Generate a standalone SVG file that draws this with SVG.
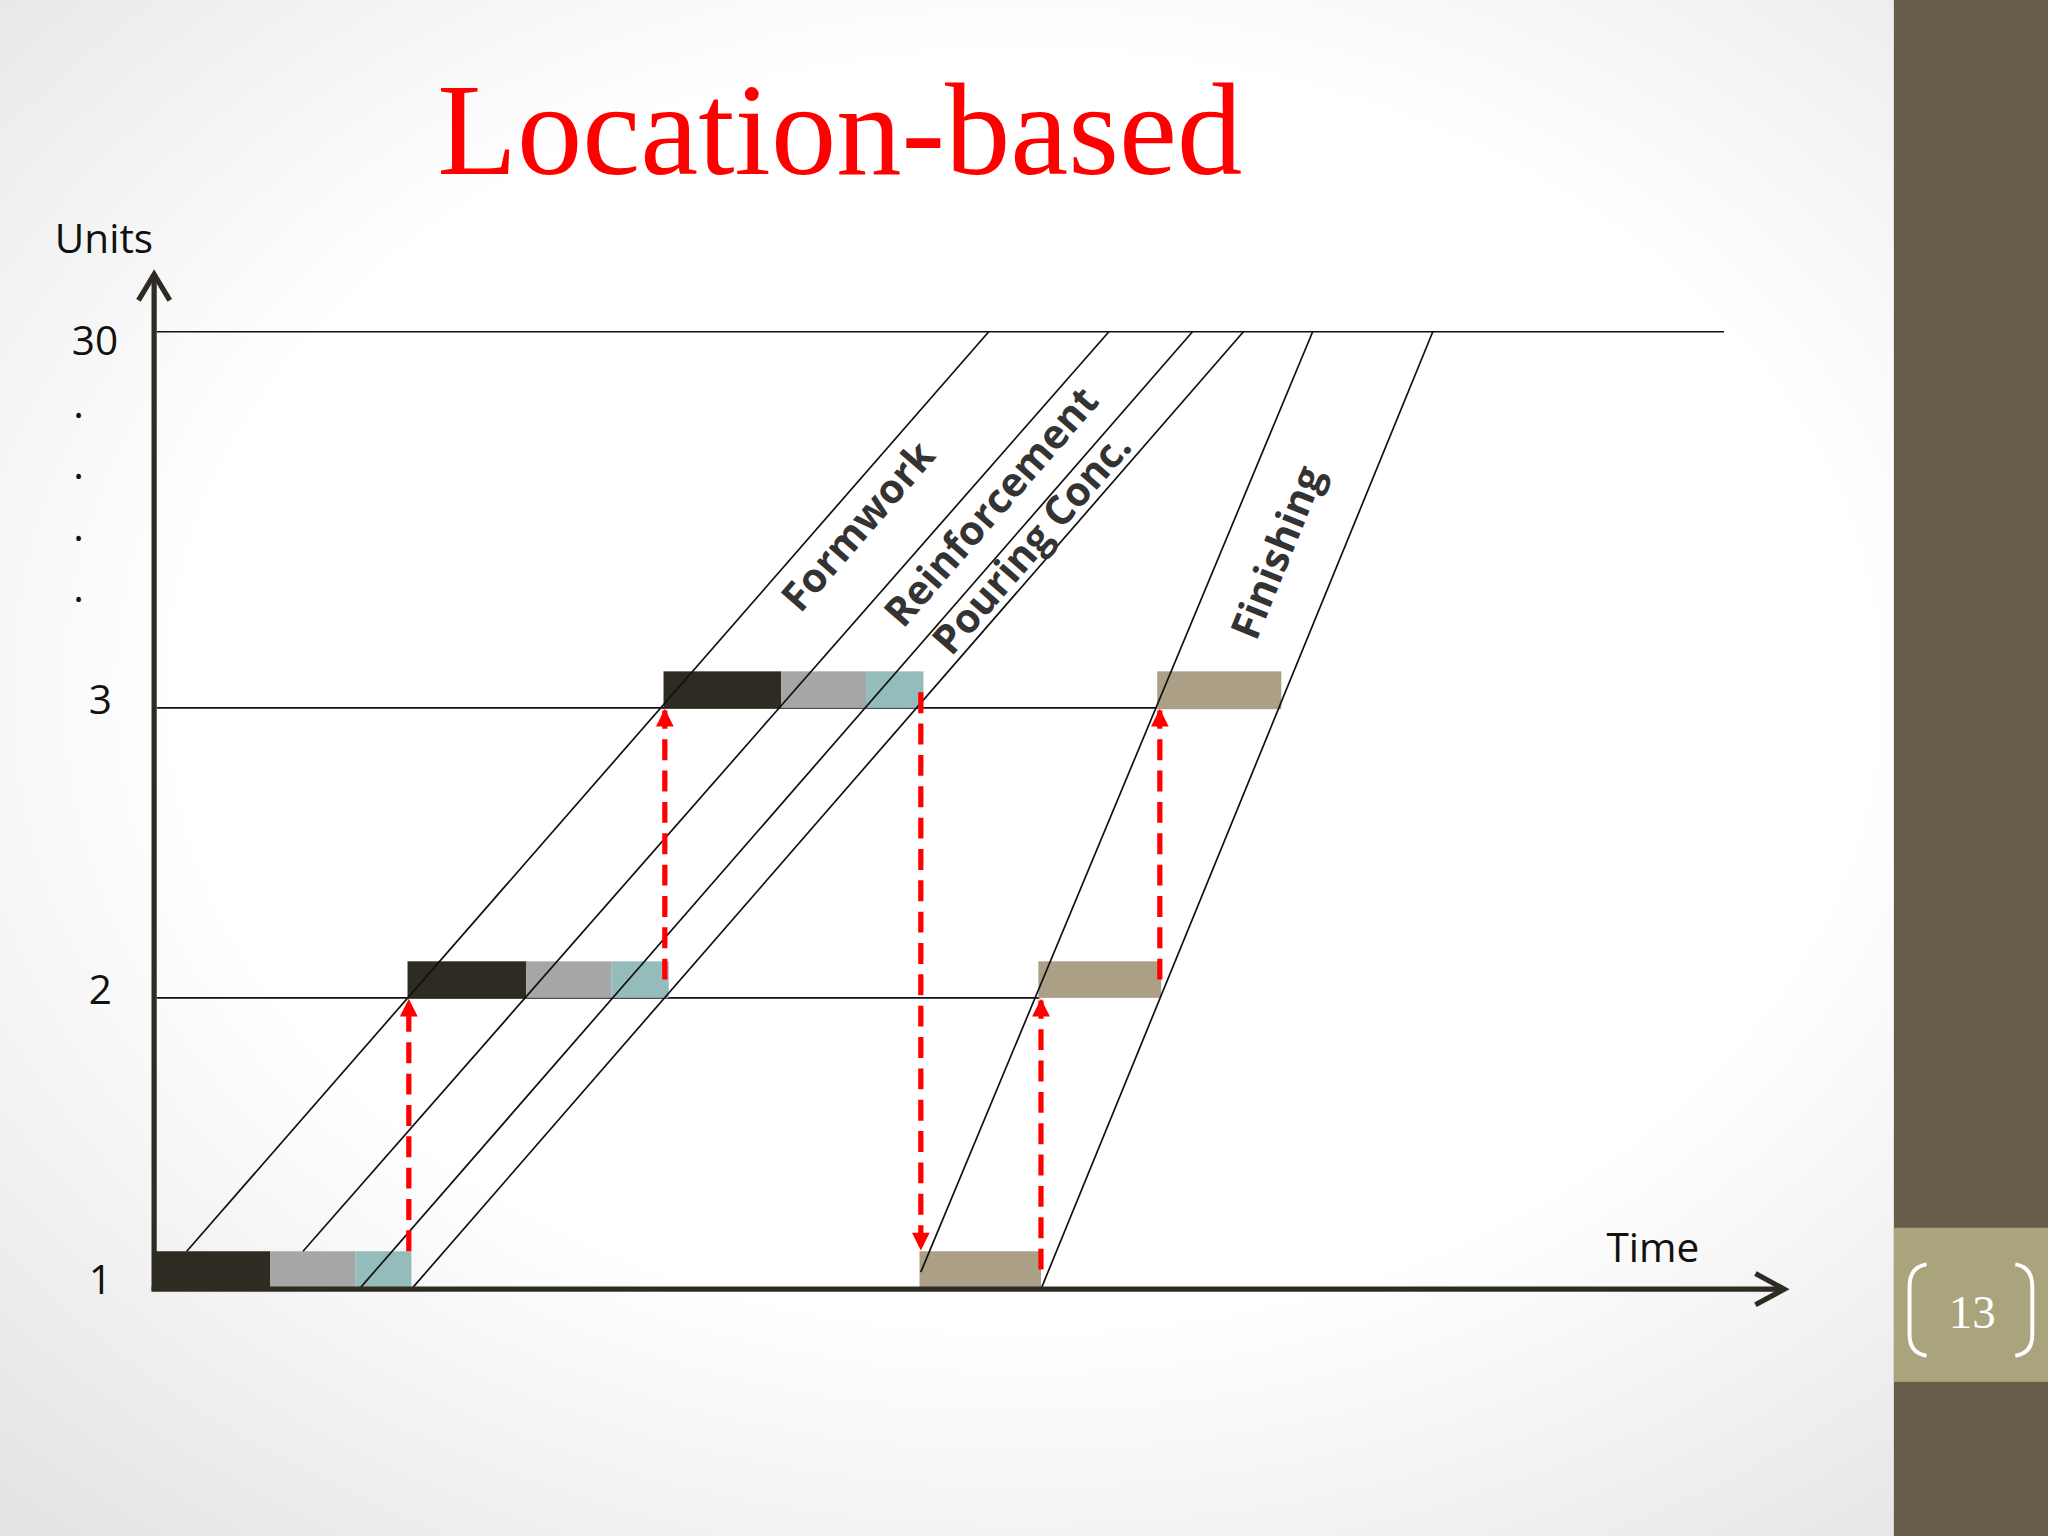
<svg xmlns="http://www.w3.org/2000/svg" width="2048" height="1536" viewBox="0 0 2048 1536">
<defs>
<radialGradient id="bg" cx="0.5" cy="0.45" r="0.75">
<stop offset="0.55" stop-color="#ffffff"/><stop offset="1" stop-color="#e2e2e2"/>
</radialGradient>
<marker id="ah" viewBox="0 0 10 10" refX="9" refY="5" markerWidth="4" markerHeight="3.4" orient="auto"><path d="M0,0 L10,5 L0,10 z" fill="#ff0000"/></marker>
<style>
.ln{stroke:#111;stroke-width:1.3;fill:none}
.ax{stroke:#2e2b22;stroke-width:4;fill:none}
.rd{stroke:#ff0000;stroke-width:4;stroke-dasharray:16,8;fill:none;marker-end:url(#ah)}
.lbl{font-family:"Open Sans",sans-serif;font-size:31px;fill:#111}
.act{font-family:"Open Sans",sans-serif;font-weight:bold;font-size:31px;fill:#333;text-anchor:middle}
.dk{fill:#2e2b22}.gr{fill:#a6a6a6}.tl{fill:#93bcbb}.tn{fill:#aba086}
</style>
</defs>
<rect width="2048" height="1536" fill="url(#bg)"/>
<g transform="scale(1.30612)">
<g id="sidebar"><rect x="1450" y="0" width="118" height="1176" fill="#675c48"/><rect x="1450" y="940" width="118" height="118" fill="#aaa47c"/>
<path d="M1475,968 Q1462,970 1462,985 L1462,1022 Q1462,1036 1475,1038" stroke="#fff" stroke-width="3" fill="none"/>
<path d="M1543,968 Q1556,970 1556,985 L1556,1022 Q1556,1036 1543,1038" stroke="#fff" stroke-width="3" fill="none"/>
<text x="1510" y="1017" font-family="Liberation Serif,serif" font-size="36" fill="#fff" text-anchor="middle">13</text></g>
<text id="title" x="643" y="133" font-family="Liberation Serif,serif" font-size="100" fill="#ff0000" text-anchor="middle">Location-based</text>
<g id="gridlines">
<line class="ln" x1="120" y1="254" x2="1320" y2="254"/>
<line class="ln" x1="120" y1="542" x2="886" y2="542"/>
<line class="ln" x1="120" y1="764" x2="796" y2="764"/>
</g>
<g id="bars">
<rect class="dk" x="118" y="958" width="89" height="29"/><rect class="gr" x="207" y="958" width="65" height="29"/><rect class="tl" x="272" y="958" width="43" height="29"/>
<rect class="dk" x="312" y="736" width="91" height="28"/><rect class="gr" x="403" y="736" width="65" height="28"/><rect class="tl" x="468" y="736" width="44" height="28"/>
<rect class="dk" x="508" y="514" width="90" height="28"/><rect class="gr" x="598" y="514" width="65" height="28"/><rect class="tl" x="663" y="514" width="44" height="28"/>
<rect class="tn" x="704" y="958" width="93" height="29"/><rect class="tn" x="795" y="736" width="94" height="28"/><rect class="tn" x="886" y="514" width="95" height="29"/>
</g>
<g id="connectors">
<line class="ln" x1="143" y1="958" x2="757" y2="254"/>
<line class="ln" x1="232" y1="958" x2="849" y2="254"/>
<line class="ln" x1="275" y1="987" x2="913" y2="254"/>
<line class="ln" x1="315" y1="987" x2="952" y2="254"/>
<line class="ln" x1="705" y1="974" x2="1005" y2="254"/>
<line class="ln" x1="797" y1="987" x2="1097" y2="254"/>
<line class="rd" x1="313" y1="958" x2="313" y2="766"/>
<line class="rd" x1="509" y1="750" x2="509" y2="544"/>
<line class="rd" x1="705" y1="530" x2="705" y2="956"/>
<line class="rd" x1="797" y1="972" x2="797" y2="766"/>
<line class="rd" x1="888" y1="750" x2="888" y2="544"/>
</g>
<g id="axes">
<line class="ax" x1="118" y1="988" x2="118" y2="212"/>
<path class="ax" d="M106,230 L118,210 L130,230"/>
<line class="ax" x1="116" y1="987" x2="1366" y2="987"/>
<path class="ax" d="M1344,975 L1366,987 L1344,999"/>
<text class="lbl" x="42" y="194">Units</text>
<text class="lbl" x="1230" y="966">Time</text>
<text class="lbl" x="55" y="272">30</text>
<text class="lbl" x="56" y="320">.</text><text class="lbl" x="56" y="367">.</text><text class="lbl" x="56" y="414">.</text><text class="lbl" x="56" y="461">.</text>
<text class="lbl" x="68" y="547">3</text>
<text class="lbl" x="68" y="769">2</text>
<text class="lbl" x="68" y="991">1</text>
</g>
<g id="labels">
<text class="act" transform="translate(665,410) rotate(-49)">Formwork</text>
<text class="act" transform="translate(767,395) rotate(-49)">Reinforcement</text>
<text class="act" transform="translate(798,423) rotate(-49)">Pouring Conc.</text>
<text class="act" transform="translate(988,427) rotate(-68)">Finishing</text>
</g>
</g>
</svg>
